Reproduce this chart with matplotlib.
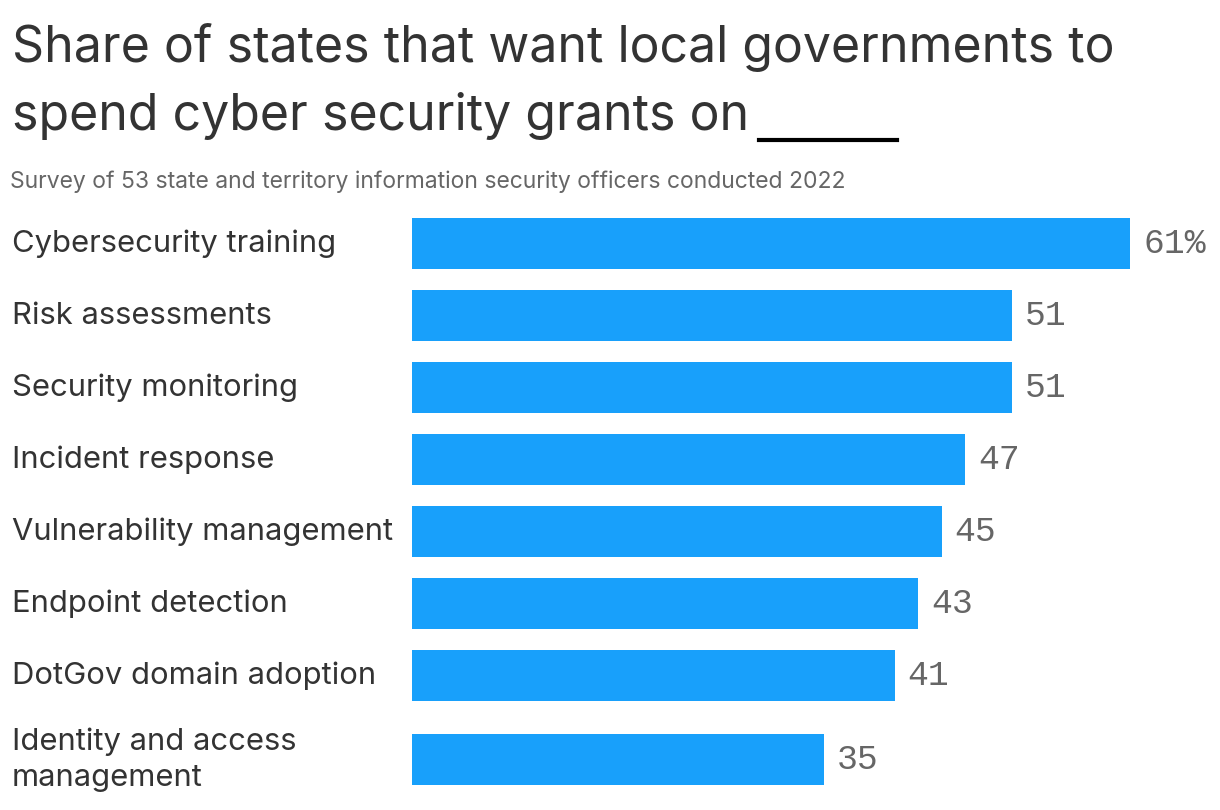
import matplotlib.pyplot as plt
from matplotlib.lines import Line2D

categories = [
    "Cybersecurity training",
    "Risk assessments",
    "Security monitoring",
    "Incident response",
    "Vulnerability management",
    "Endpoint detection",
    "DotGov domain adoption",
    "Identity and access\nmanagement",
]
values = [61, 51, 51, 47, 45, 43, 41, 35]
value_labels = ["61%", "51", "51", "47", "45", "43", "41", "35"]

title_1 = "Share of states that want local governments to"
title_2 = "spend cyber security grants on"
subtitle = "Survey of 53 state and territory information security officers conducted 2022"

BAR = "#18a0fb"
DARK = "#333333"
GRAY = "#666666"
W, H = 1220, 810

plt.rcParams['font.family'] = ['Inter', 'DejaVu Sans']

fig = plt.figure(figsize=(W / 100, H / 100), dpi=100)

# row positions: extra room where the label wraps to two lines
ypos = []
y = 0.0
for i, c in enumerate(categories):
    if i > 0:
        y += 1.0 + c.count("\n") * (12 / 72)
    ypos.append(y)

half = 51 / 72 / 2
ax = fig.add_axes([412 / W, 1 - 785 / H, 718 / W, (785 - 218) / H])
ax.barh(ypos, values, height=2 * half, color=BAR)
ax.set_xlim(0, 61)
ax.set_ylim(ypos[-1] + half, ypos[0] - half)
ax.axis("off")

px = 61 / 718  # data units per pixel in x
for yy, v, lab in zip(ypos, values, value_labels):
    ax.text(v + 13 * px, yy, lab, va="center", ha="left",
            family="Liberation Mono", fontsize=25, color=GRAY)

for yy, c in zip(ypos, categories):
    ax.text((12 - 412) * px, yy, c, va="center", ha="left",
            fontsize=22.3, color=DARK, linespacing=1.38, clip_on=False)

fig.text(12 / W, 1 - 62 / H, title_1, fontsize=36, color=DARK, va="baseline")
t2 = fig.text(12 / W, 1 - 130 / H, title_2, fontsize=36, color=DARK, va="baseline")
fig.text(10 / W, 1 - 188 / H, subtitle, fontsize=16.5, color=GRAY, va="baseline")

# the blank after the second title line
fig.canvas.draw()
bb = t2.get_window_extent()
x0 = bb.x1 + 10
fig.add_artist(Line2D([x0 / W, (x0 + 138) / W], [1 - 140 / H] * 2,
                      transform=fig.transFigure, color="black", lw=3))

fig.savefig("out.png", dpi=100)
